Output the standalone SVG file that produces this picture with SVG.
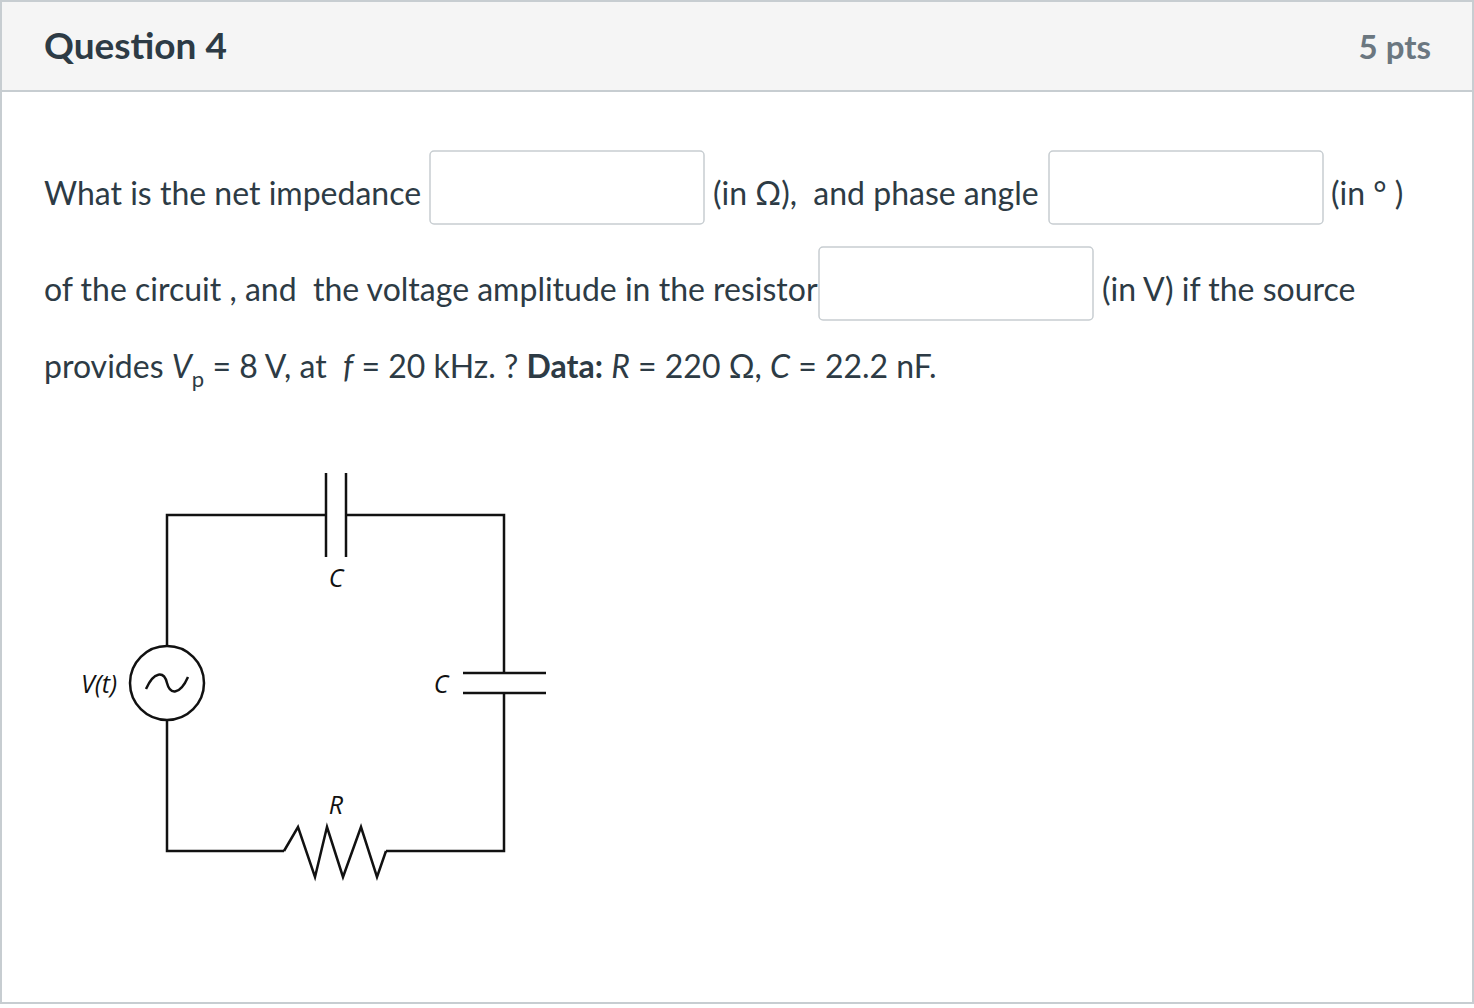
<svg xmlns="http://www.w3.org/2000/svg" width="1474" height="1008" viewBox="0 0 1474 1008">
<style>
.t{font-family:Lato,"Liberation Sans",sans-serif;font-size:32px;fill:#2d3b45;white-space:pre}
.box{fill:#fff;stroke:#c7cdd1;stroke-width:1.5}
.w{fill:none;stroke:#111;stroke-width:2.5}
.l{font-family:"Open Sans","Liberation Sans",sans-serif;font-style:italic;font-size:25px;fill:#111}
</style>
<rect x="1" y="1" width="1472" height="1002" fill="#fff" stroke="#c7cdd1" stroke-width="2"/>
<rect x="2" y="2" width="1470" height="89" fill="#f5f5f5"/>
<line x1="2" y1="91" x2="1472" y2="91" stroke="#c7cdd1" stroke-width="2"/>
<text x="44" y="59" class="t" style="font-size:37px;font-weight:bold;fill:#2d3b45">Question 4</text>
<text x="1431" y="59" class="t" text-anchor="end" style="font-size:33px;font-weight:bold;fill:#6b7780">5 pts</text>
<g id="inputs">
<rect class="box" x="430" y="151" width="274" height="73" rx="4"/>
<rect class="box" x="1049" y="151" width="274" height="73" rx="4"/>
<rect class="box" x="819" y="247" width="274" height="73" rx="4"/>
</g>
<text x="44" y="205" class="t">What is the net impedance</text>
<text x="713" y="205" class="t">(in Ω),  and phase angle</text>
<text x="1331" y="205" class="t">(in ° )</text>
<text x="44" y="301" class="t">of the circuit , and  the voltage amplitude in the resistor</text>
<text x="1102" y="301" class="t">(in V) if the source</text>
<text x="44" y="378" class="t">provides <tspan font-style="italic">V</tspan><tspan font-size="22" dy="9">p</tspan><tspan dy="-9"> = 8 V, at  </tspan><tspan font-style="italic">f</tspan> = 20 kHz. ? <tspan font-weight="bold">Data:</tspan> <tspan font-style="italic">R</tspan> = 220 Ω, <tspan font-style="italic">C</tspan> = 22.2 nF.</text>
<g id="connectors">
<polyline class="w" points="326,515 167,515 167,646"/>
<polyline class="w" points="346,515 504,515 504,673"/>
<polyline class="w" points="167,720 167,851 284,851"/>
<polyline class="w" points="504,693 504,851 386,851"/>
</g>
<g id="cap1">
<line class="w" x1="326" y1="473" x2="326" y2="557"/>
<line class="w" x1="346" y1="473" x2="346" y2="557"/>
<text class="l" x="336" y="587" text-anchor="middle">C</text>
</g>
<g id="cap2">
<line class="w" x1="463" y1="673" x2="546" y2="673"/>
<line class="w" x1="463" y1="693" x2="546" y2="693"/>
<text class="l" x="441" y="693" text-anchor="middle">C</text>
</g>
<g id="source">
<circle class="w" cx="167" cy="683" r="37"/>
<path class="w" d="M146,689 C154,671 164,671 167,683 C170,695 180,695 188,677"/>
<text class="l" x="99" y="693" text-anchor="middle">V(t)</text>
</g>
<g id="resistor">
<polyline class="w" points="284,851 298,827 315,877 327,827 343,877 361,827 377,877 386,851"/>
<text class="l" x="336" y="814" text-anchor="middle">R</text>
</g>
</svg>
